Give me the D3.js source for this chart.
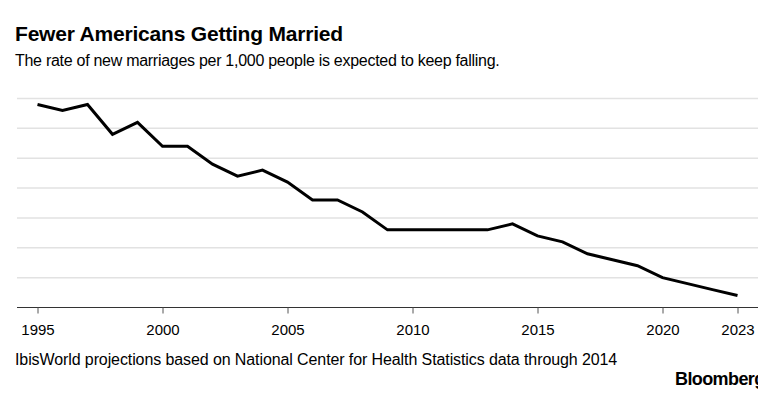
<!DOCTYPE html>
<html>
<head>
<meta charset="utf-8">
<script src="https://cdn.jsdelivr.net/npm/d3@7"></script>
<style>
  body { margin: 0; background: #fff; }
  svg { display: block; font-family: "Liberation Sans", Arial, sans-serif; }
</style>
</head>
<body>
<div id="chart"></div>
<script>
const years = d3.range(1995, 2024);
// marriages per 1,000 people
const rates = [8.9, 8.8, 8.9, 8.4, 8.6, 8.2, 8.2, 7.9, 7.7, 7.8,
  7.6, 7.3, 7.3, 7.1, 6.8, 6.8, 6.8, 6.8, 6.8, 6.9,
  6.7, 6.6, 6.4, 6.3, 6.2, 6.0, 5.9, 5.8, 5.7];
const tickYears = [1995, 2000, 2005, 2010, 2015, 2020, 2023];
const gridValues = [6, 6.5, 7, 7.5, 8, 8.5, 9];

const width = 758, height = 398;
const left = 17, right = 758;

const svg = d3.select("#chart").append("svg")
  .attr("width", width)
  .attr("height", height);

const x = d3.scaleLinear().domain([1995, 2023]).range([37.5, 737.5]);
const y = d3.scaleLinear().domain([5.5, 9]).range([307.5, 98.5]);

// gridlines
svg.append("g")
  .selectAll("line")
  .data(gridValues)
  .join("line")
  .attr("x1", left)
  .attr("x2", right)
  .attr("y1", (d) => y(d))
  .attr("y2", (d) => y(d))
  .attr("stroke", "#e2e2e2")
  .attr("stroke-width", 1.5);

// x axis
const xAxis = svg.append("g")
  .attr("transform", `translate(0,${y(5.5)})`)
  .call(d3.axisBottom(x).tickValues(tickYears).tickFormat(d3.format("d")).tickSize(6).tickPadding(11).tickSizeOuter(0));
xAxis.select(".domain").remove();
xAxis.insert("line", ":first-child")
  .attr("x1", left).attr("x2", right)
  .attr("stroke", "#333").attr("stroke-width", 1.2);
xAxis.selectAll(".tick line").attr("stroke", "#555");
xAxis.selectAll(".tick text")
  .attr("font-family", "Liberation Sans, Arial, sans-serif")
  .attr("font-size", 15)
  .attr("fill", "#000");

// line
const line = d3.line()
  .x((d, i) => x(years[i]))
  .y((d) => y(d));

svg.append("path")
  .datum(rates)
  .attr("d", line)
  .attr("fill", "none")
  .attr("stroke", "#000")
  .attr("stroke-width", 3)
  .attr("stroke-linejoin", "miter");

// titles
svg.append("text")
  .attr("x", 15).attr("y", 40.5)
  .attr("font-size", 21).attr("font-weight", "bold")
  .attr("letter-spacing", -0.2)
  .text("Fewer Americans Getting Married");

svg.append("text")
  .attr("x", 15).attr("y", 65.5)
  .attr("font-size", 16)
  .attr("letter-spacing", -0.28)
  .text("The rate of new marriages per 1,000 people is expected to keep falling.");

svg.append("text")
  .attr("x", 15).attr("y", 365)
  .attr("font-size", 16)
  .attr("letter-spacing", -0.1)
  .text("IbisWorld projections based on National Center for Health Statistics data through 2014");

svg.append("text")
  .attr("x", 675).attr("y", 385)
  .attr("font-size", 18).attr("font-weight", "bold")
  .attr("letter-spacing", -0.6)
  .text("Bloomberg");
</script>
</body>
</html>
